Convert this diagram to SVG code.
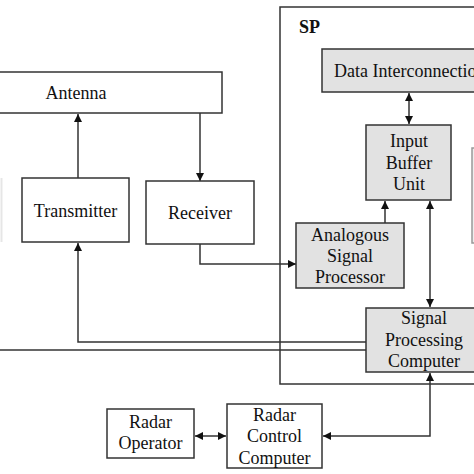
<svg xmlns="http://www.w3.org/2000/svg" width="474" height="474" viewBox="0 0 474 474">
<defs>
<style>
.box{fill:#fff;stroke:#333;stroke-width:1.5}
.gbox{fill:#e2e2e2;stroke:#333;stroke-width:1.5}
.ln{fill:none;stroke:#333;stroke-width:1.5}
text{font-family:"Liberation Serif","Times New Roman",serif;font-size:18px;fill:#111;text-anchor:middle}
</style>
<marker id="ah" viewBox="0 0 10 10" refX="10" refY="5" markerWidth="8" markerHeight="8.5" markerUnits="userSpaceOnUse" orient="auto-start-reverse">
<path d="M0,0 L10,5 L0,10 z" fill="#111"/>
</marker>
</defs>
<rect width="474" height="474" fill="#fff"/>
<line x1="1.5" y1="178" x2="1.5" y2="242" stroke="#e6e6e6" stroke-width="2"/>
<g id="sp">
<rect x="280" y="7" width="210" height="377" class="box" fill="none"/>
<text x="299" y="33" style="font-weight:bold;text-anchor:start">SP</text>
</g>
<g id="connectors">
<line x1="0" y1="350" x2="366" y2="350" class="ln"/>
<line x1="78" y1="178" x2="78" y2="114" class="ln" marker-end="url(#ah)"/>
<line x1="200" y1="113" x2="200" y2="181" class="ln" marker-end="url(#ah)"/>
<polyline points="200,244 200,264 296,264" class="ln" marker-end="url(#ah)"/>
<polyline points="366,342 78,342 78,243" class="ln" marker-end="url(#ah)"/>
<line x1="409" y1="93" x2="409" y2="124" class="ln" marker-start="url(#ah)" marker-end="url(#ah)"/>
<line x1="385" y1="223" x2="385" y2="201" class="ln" marker-end="url(#ah)"/>
<line x1="430" y1="201" x2="430" y2="307" class="ln" marker-start="url(#ah)" marker-end="url(#ah)"/>
<polyline points="430,373 430,436 323,436" class="ln" marker-start="url(#ah)" marker-end="url(#ah)"/>
<line x1="195" y1="436" x2="226" y2="436" class="ln" marker-start="url(#ah)" marker-end="url(#ah)"/>
</g>
<g id="antenna">
<rect x="-10" y="72" width="232" height="41" class="box"/>
<text x="76" y="99">Antenna</text>
</g>
<g id="transmitter">
<rect x="22" y="178" width="107" height="64" class="box"/>
<text x="75.5" y="217">Transmitter</text>
</g>
<g id="receiver">
<rect x="146" y="181" width="108" height="63" class="box"/>
<text x="200" y="219">Receiver</text>
</g>
<g id="data-interconnection">
<rect x="322" y="49" width="170" height="43" class="gbox"/>
<text x="334" y="77" style="text-anchor:start">Data Interconnection</text>
</g>
<g id="input-buffer">
<rect x="366" y="125" width="85" height="75" class="gbox"/>
<text x="409" y="147">Input</text>
<text x="409" y="168.5">Buffer</text>
<text x="409" y="190">Unit</text>
</g>
<g id="right-box">
<rect x="472" y="148" width="20" height="95" fill="#eee" stroke="#999" stroke-width="1.5"/>
</g>
<g id="analogous">
<rect x="296" y="223" width="108" height="65" class="gbox"/>
<text x="350" y="240.5">Analogous</text>
<text x="350" y="262">Signal</text>
<text x="350" y="283">Processor</text>
</g>
<g id="spc">
<rect x="366" y="308" width="120" height="64" class="gbox"/>
<text x="424" y="324">Signal</text>
<text x="424" y="345.5">Processing</text>
<text x="424" y="367">Computer</text>
</g>
<g id="radar-operator">
<rect x="107" y="409" width="87" height="49" class="box"/>
<text x="150.5" y="428">Radar</text>
<text x="150.5" y="449">Operator</text>
</g>
<g id="radar-control">
<rect x="227" y="404" width="95" height="64" class="box"/>
<text x="274.5" y="421">Radar</text>
<text x="274.5" y="442">Control</text>
<text x="274.5" y="464">Computer</text>
</g>
</svg>
